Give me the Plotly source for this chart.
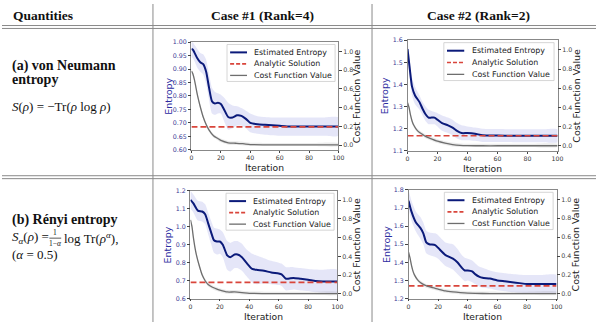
import plotly.graph_objects as go

# ---------------- data ----------------
# Panel (a) Case #1
it_a1 = [0, 1, 2, 4, 6, 8, 10, 12, 14, 16, 18, 20, 22, 25, 28, 31, 34, 37, 40, 45, 50, 55, 60, 65, 70, 80, 90, 100]
ent_a1 = [0.975, 0.972, 0.962, 0.94, 0.925, 0.918, 0.89, 0.83, 0.78, 0.772, 0.775, 0.77, 0.752, 0.722, 0.72, 0.728, 0.726, 0.715, 0.70, 0.695, 0.693, 0.691, 0.689, 0.687, 0.687, 0.687, 0.687, 0.687]
up_a1 = [1.005, 1.0, 0.99, 0.975, 0.96, 0.955, 0.935, 0.88, 0.83, 0.815, 0.81, 0.805, 0.795, 0.775, 0.765, 0.762, 0.755, 0.745, 0.735, 0.725, 0.722, 0.72, 0.72, 0.72, 0.72, 0.72, 0.72, 0.72]
lo_a1 = [0.945, 0.94, 0.93, 0.905, 0.89, 0.88, 0.845, 0.785, 0.735, 0.73, 0.735, 0.735, 0.71, 0.675, 0.68, 0.69, 0.69, 0.68, 0.665, 0.66, 0.656, 0.654, 0.652, 0.652, 0.652, 0.652, 0.652, 0.652]
ana_a1 = 0.685
cit_a1 = [0, 1, 2, 3, 4, 6, 8, 10, 12, 15, 18, 20, 25, 30, 35, 40, 50, 60, 80, 100]
cost_a1 = [0.79, 0.76, 0.70, 0.62, 0.54, 0.41, 0.30, 0.22, 0.16, 0.10, 0.07, 0.05, 0.025, 0.02, 0.015, 0.006, 0.003, 0.002, 0.002, 0.002]

# Panel (a) Case #2
it_a2 = [0, 1, 2, 3, 5, 8, 10, 12, 14, 16, 18, 20, 23, 27, 30, 33, 36, 40, 45, 50, 60, 70, 80, 90, 100]
ent_a2 = [1.56, 1.50, 1.44, 1.39, 1.35, 1.32, 1.29, 1.265, 1.25, 1.25, 1.25, 1.24, 1.225, 1.215, 1.205, 1.19, 1.18, 1.18, 1.177, 1.17, 1.169, 1.168, 1.168, 1.168, 1.168]
up_a2 = [1.60, 1.54, 1.48, 1.43, 1.39, 1.35, 1.32, 1.30, 1.285, 1.28, 1.275, 1.27, 1.26, 1.25, 1.24, 1.225, 1.215, 1.21, 1.205, 1.20, 1.198, 1.197, 1.197, 1.197, 1.197]
lo_a2 = [1.52, 1.46, 1.40, 1.35, 1.31, 1.285, 1.26, 1.235, 1.22, 1.22, 1.22, 1.21, 1.19, 1.18, 1.17, 1.155, 1.148, 1.148, 1.145, 1.14, 1.14, 1.139, 1.139, 1.139, 1.139]
ana_a2 = 1.168
cit_a2 = [0, 1, 2, 3, 4, 6, 8, 10, 12, 15, 20, 25, 30, 35, 40, 50, 60, 80, 100]
cost_a2 = [0.45, 0.40, 0.32, 0.26, 0.22, 0.17, 0.14, 0.12, 0.10, 0.08, 0.05, 0.03, 0.015, 0.006, 0.003, 0.002, 0.002, 0.002, 0.002]

# Panel (b) Case #1
it_b1 = [0, 2, 5, 8, 10, 12, 14, 16, 18, 20, 22, 25, 27, 30, 32, 35, 38, 42, 45, 50, 55, 60, 62, 65, 70, 75, 80, 85, 90, 100]
ent_b1 = [1.15, 1.13, 1.09, 1.085, 1.07, 1.02, 0.97, 0.925, 0.918, 0.918, 0.90, 0.84, 0.83, 0.845, 0.845, 0.83, 0.80, 0.765, 0.76, 0.755, 0.745, 0.74, 0.735, 0.71, 0.715, 0.71, 0.705, 0.698, 0.695, 0.695]
up_b1 = [1.20, 1.18, 1.145, 1.14, 1.125, 1.08, 1.035, 0.995, 0.99, 0.985, 0.97, 0.92, 0.91, 0.92, 0.92, 0.905, 0.875, 0.85, 0.84, 0.825, 0.81, 0.80, 0.795, 0.775, 0.775, 0.77, 0.765, 0.762, 0.76, 0.76]
lo_b1 = [1.10, 1.08, 1.035, 1.03, 1.015, 0.96, 0.905, 0.855, 0.845, 0.85, 0.83, 0.76, 0.75, 0.77, 0.77, 0.755, 0.725, 0.69, 0.68, 0.685, 0.68, 0.675, 0.67, 0.645, 0.65, 0.645, 0.642, 0.635, 0.632, 0.63]
ana_b1 = 0.69
cit_b1 = [0, 1, 2, 3, 4, 6, 8, 10, 12, 15, 18, 20, 25, 30, 35, 40, 50, 60, 80, 100]
cost_b1 = [0.79, 0.72, 0.60, 0.50, 0.42, 0.30, 0.20, 0.14, 0.10, 0.07, 0.05, 0.04, 0.02, 0.02, 0.014, 0.006, 0.003, 0.002, 0.002, 0.002]

# Panel (b) Case #2
it_b2 = [0, 2, 5, 8, 10, 12, 14, 18, 20, 25, 30, 33, 36, 38, 40, 43, 45, 48, 50, 55, 60, 65, 70, 75, 80, 90, 100]
ent_b2 = [1.74, 1.68, 1.62, 1.59, 1.56, 1.51, 1.50, 1.495, 1.48, 1.44, 1.42, 1.40, 1.37, 1.355, 1.355, 1.35, 1.335, 1.32, 1.315, 1.31, 1.30, 1.295, 1.29, 1.285, 1.28, 1.28, 1.28]
up_b2 = [1.80, 1.74, 1.68, 1.65, 1.62, 1.575, 1.565, 1.56, 1.55, 1.51, 1.50, 1.475, 1.44, 1.425, 1.42, 1.41, 1.395, 1.375, 1.37, 1.355, 1.345, 1.34, 1.335, 1.332, 1.33, 1.33, 1.33]
lo_b2 = [1.70, 1.63, 1.57, 1.53, 1.50, 1.45, 1.44, 1.43, 1.42, 1.38, 1.36, 1.335, 1.31, 1.295, 1.30, 1.29, 1.28, 1.265, 1.26, 1.255, 1.245, 1.24, 1.235, 1.232, 1.23, 1.23, 1.23]
ana_b2 = 1.27
cit_b2 = [0, 1, 2, 3, 4, 6, 8, 10, 12, 15, 20, 25, 30, 35, 40, 50, 60, 80, 100]
cost_b2 = [0.44, 0.38, 0.30, 0.24, 0.20, 0.15, 0.12, 0.10, 0.085, 0.07, 0.05, 0.03, 0.02, 0.013, 0.008, 0.003, 0.002, 0.002, 0.002]

panels = [
    dict(it=it_a1, ent=ent_a1, up=up_a1, lo=lo_a1, ana=ana_a1, cit=cit_a1, cost=cost_a1,
         px=(192, 341), py=(39, 149), yr=[0.60, 1.00], dt=0.05, fmt=".2f"),
    dict(it=it_a2, ent=ent_a2, up=up_a2, lo=lo_a2, ana=ana_a2, cit=cit_a2, cost=cost_a2,
         px=(411, 563), py=(37, 150), yr=[1.1, 1.6], dt=0.1, fmt=".1f"),
    dict(it=it_b1, ent=ent_b1, up=up_b1, lo=lo_b1, ana=ana_b1, cit=cit_b1, cost=cost_b1,
         px=(191, 340), py=(191, 301), yr=[0.6, 1.2], dt=0.1, fmt=".1f"),
    dict(it=it_b2, ent=ent_b2, up=up_b2, lo=lo_b2, ana=ana_b2, cit=cit_b2, cost=cost_b2,
         px=(412, 562), py=(190, 301), yr=[1.2, 1.8], dt=0.1, fmt=".1f"),
]

W, H = 602, 325
NAVY = "#0b1a7a"
RED = "#d9453b"
GRAY = "#6e6e6e"
SANS = "DejaVu Sans"
SERIF = "Liberation Serif"

def fx(p):
    return p / W

def fy(p):
    return 1 - p / H

fig = go.Figure()
shapes = []
annotations = []
layout = {}

for i, p in enumerate(panels, start=1):
    xa = "x" if i == 1 else f"x{i}"
    ya_n = 2 * i - 1
    yb_n = 2 * i
    ya = "y" if ya_n == 1 else f"y{ya_n}"
    yb = f"y{yb_n}"
    xkey = "xaxis" if i == 1 else f"xaxis{i}"
    yakey = "yaxis" if ya_n == 1 else f"yaxis{ya_n}"
    ybkey = f"yaxis{yb_n}"

    # entropy band
    fig.add_trace(go.Scatter(x=p["it"] + p["it"][::-1], y=p["up"] + p["lo"][::-1],
                             fill="toself", fillcolor="rgba(40,50,200,0.12)",
                             line=dict(width=0, shape="spline", smoothing=0.6),
                             mode="lines", hoverinfo="skip", showlegend=False,
                             xaxis=xa, yaxis=ya))
    # estimated entropy
    fig.add_trace(go.Scatter(x=p["it"], y=p["ent"], mode="lines",
                             line=dict(color=NAVY, width=2, shape="spline", smoothing=0.6),
                             showlegend=False, xaxis=xa, yaxis=ya))
    # analytic
    fig.add_trace(go.Scatter(x=[p["it"][0], p["it"][-1]], y=[p["ana"], p["ana"]], mode="lines",
                             line=dict(color=RED, width=1.6, dash="6px,3px"),
                             showlegend=False, xaxis=xa, yaxis=ya))
    # cost band + cost
    cup = [c + 0.02 for c in p["cost"]]
    clo = [max(c - 0.02, -0.01) for c in p["cost"]]
    fig.add_trace(go.Scatter(x=p["cit"] + p["cit"][::-1], y=cup + clo[::-1],
                             fill="toself", fillcolor="rgba(120,120,120,0.15)",
                             line=dict(width=0, shape="spline", smoothing=0.6),
                             mode="lines", hoverinfo="skip", showlegend=False,
                             xaxis=xa, yaxis=yb))
    fig.add_trace(go.Scatter(x=p["cit"], y=p["cost"], mode="lines",
                             line=dict(color=GRAY, width=1.3, shape="spline", smoothing=0.6),
                             showlegend=False, xaxis=xa, yaxis=yb))

    x0, x1 = p["px"]
    y0, y1 = p["py"]
    tickvals = []
    v = p["yr"][0]
    while v <= p["yr"][1] + 1e-9:
        tickvals.append(round(v, 4))
        v += p["dt"]

    layout[xkey] = dict(domain=[fx(x0), fx(x1)], anchor=ya, range=[0, 100],
                        tickvals=[0, 20, 40, 60, 80, 100], ticks="outside", ticklen=2,
                        tickcolor="#444", tickfont=dict(size=6.2, color="#333", family=SANS),
                        showline=True, linecolor="#888", linewidth=0.8, mirror=True,
                        showgrid=False, zeroline=False)
    layout[yakey] = dict(domain=[fy(y1), fy(y0)], anchor=xa, range=p["yr"],
                         tickvals=tickvals, tickformat=p["fmt"], ticks="outside", ticklen=2.5,
                         tickcolor="#444", tickfont=dict(size=6.3, color="#3a3a96", family=SANS),
                         showline=True, linecolor="#888", linewidth=0.8,
                         showgrid=False, zeroline=False)
    layout[ybkey] = dict(overlaying=ya, anchor=xa, side="right", range=[-0.05, 1.1],
                         tickvals=[0, 0.2, 0.4, 0.6, 0.8, 1.0], tickformat=".1f",
                         ticks="outside", ticklen=2.5, tickcolor="#444",
                         tickfont=dict(size=6.3, color="#444", family=SANS),
                         showline=True, linecolor="#888", linewidth=0.8,
                         showgrid=False, zeroline=False)

    # axis titles
    annotations.append(dict(text="Entropy", xref="paper", yref="paper",
                            x=fx(x0 - 23), y=fy((y0 + y1) / 2), textangle=-90,
                            showarrow=False, font=dict(size=9.5, color="#2b2ba0", family=SANS),
                            xanchor="center", yanchor="middle"))
    annotations.append(dict(text="Cost Function Value", xref="paper", yref="paper",
                            x=fx(x1 + 19), y=fy((y0 + y1) / 2), textangle=-90,
                            showarrow=False, font=dict(size=9.5, color="#222", family=SANS),
                            xanchor="center", yanchor="middle"))
    annotations.append(dict(text="Iteration", xref="paper", yref="paper",
                            x=fx((x0 + x1) / 2), y=fy(y1 + 18), yanchor="middle",
                            showarrow=False, font=dict(size=9.2, color="#222", family=SANS),
                            xanchor="center"))

    # legend box (manual, compact like matplotlib)
    xd = f"{xa} domain"
    yd = f"{ya} domain"
    shapes.append(dict(type="rect", xref=xd, yref=yd, x0=0.242, x1=0.977, y0=0.635, y1=0.978,
                       line=dict(color="#cccccc", width=0.8), fillcolor="rgba(255,255,255,0.85)",
                       layer="above"))
    items = [("Estimated Entropy", NAVY, 2, "solid"),
             ("Analytic Solution", RED, 1.6, "4px,2px"),
             ("Cost Function Value", GRAY, 1.3, "solid")]
    for k, (lab, col, w, dash) in enumerate(items):
        yy = 0.905 - k * 0.107
        shapes.append(dict(type="line", xref=xd, yref=yd, x0=0.263, x1=0.378, y0=yy, y1=yy,
                           line=dict(color=col, width=w, dash=dash), layer="above"))
        annotations.append(dict(text=lab, xref=xd, yref=yd, x=0.415, y=yy, showarrow=False,
                                xanchor="left", yanchor="middle",
                                font=dict(size=7.9, color="#222", family=SANS)))

# ---------------- table lines ----------------
LC = "#8a8a8a"
for xv in (153, 375):
    shapes.append(dict(type="line", xref="paper", yref="paper", x0=fx(xv), x1=fx(xv),
                       y0=0, y1=1, line=dict(color=LC, width=1)))
for yv in (22, 25, 175.5, 178.5):
    shapes.append(dict(type="line", xref="paper", yref="paper", x0=0, x1=1,
                       y0=fy(yv), y1=fy(yv), line=dict(color=LC, width=1)))

# ---------------- table text ----------------
def txt(s, x, y, size=14, bold=False, anchor="left"):
    annotations.append(dict(text=(f"<b>{s}</b>" if bold else s), xref="paper", yref="paper",
                            x=fx(x), y=fy(y), showarrow=False, xanchor=anchor, yanchor="middle",
                            borderpad=0,
                            font=dict(size=size, color="#111", family=SERIF)))

txt("Quantities", 10, 12, 13.5, True)
txt("Case #1 (Rank=4)", 264, 12, 13.5, True, "center")
txt("Case #2 (Rank=2)", 483, 12, 13.5, True, "center")

txt("(a) von Neumann", 9, 63, 14, True)
txt("entropy", 9, 77.5, 14, True)
txt("<i>S</i>(<i>ρ</i>) = −Tr(<i>ρ</i> log <i>ρ</i>)", 9, 105, 13)

txt("(b) Rényi entropy", 9, 221, 14, True)
txt("<i>S<sub>α</sub></i>(<i>ρ</i>) =", 9, 239, 13)
txt("1", 54, 234, 7.5, False, "center")
txt("1−<i>α</i>", 54, 244.5, 7.5, False, "center")
shapes.append(dict(type="line", xref="paper", yref="paper", x0=fx(48), x1=fx(60),
                   y0=fy(239.3), y1=fy(239.3), line=dict(color="#111", width=0.7)))
txt("log Tr(<i>ρ<sup>α</sup></i>),", 62, 239, 13)
txt("(<i>α</i> = 0.5)", 9, 256, 13)

layout.update(dict(width=W, height=H, margin=dict(l=0, r=0, t=0, b=0),
                   paper_bgcolor="white", plot_bgcolor="white", showlegend=False,
                   shapes=shapes, annotations=annotations))
fig.update_layout(**layout)
fig.write_html("out.html")
